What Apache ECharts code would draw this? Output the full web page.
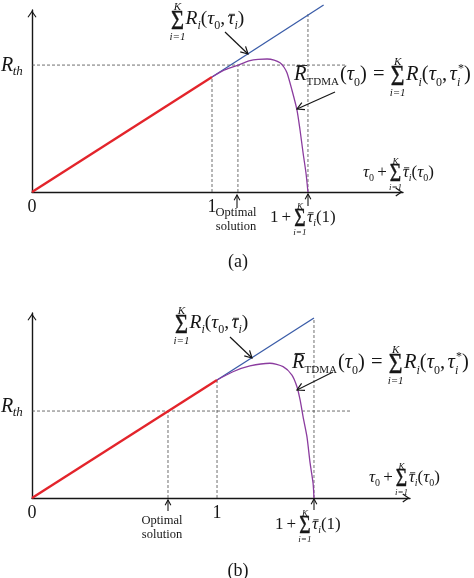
<!DOCTYPE html>
<html><head><meta charset="utf-8">
<script src="https://cdn.jsdelivr.net/npm/echarts@6/dist/echarts.min.js"></script>
<style>html,body{margin:0;padding:0;background:#fff}#c{width:474px;height:578px}</style>
</head><body><div id="c"></div>
<script>
// ---------- data ----------
const xTickValues = [0, 1];
const xTickLabels = ['0', '1'];
// panel (a)
const redA = [[0, 0], [1, 1]];
const blueA = [[1, 1], [1.62, 1.626]];
const purpleA = [[1, 1], [1.07, 1.062], [1.156, 1.11], [1.211, 1.142], [1.256, 1.153], [1.306, 1.157], [1.345, 1.148], [1.378, 1.124], [1.40, 1.085], [1.417, 1.035], [1.444, 0.887], [1.472, 0.713], [1.489, 0.539], [1.506, 0.339], [1.522, 0.165], [1.533, 0]];
const rthA = 1.104, rthEndA = 1.739, optA = 1.144, endA = 1.533, endTopA = 1.55;
const xMaxA = 2.061, yMaxA = 1.583;
// panel (b)
const redB = [[0, 0], [1, 1]];
const blueB = [[1, 1], [1.524, 1.525]];
const purpleB = [[1, 1], [1.086, 1.070], [1.178, 1.119], [1.286, 1.142], [1.357, 1.113], [1.405, 1.042], [1.432, 0.943], [1.449, 0.831], [1.465, 0.689], [1.486, 0.520], [1.503, 0.297], [1.519, 0.127], [1.524, 0]];
const rthB = 0.737, rthEndB = 1.724, optB = 0.735, endB = 1.524, endTopB = 1.525;
const xMaxB = 2.043, yMaxB = 1.568;

// ---------- helpers ----------
const SERIF = '"Liberation Serif","Times New Roman",serif';
const INK = '#161616';
const mctx = document.createElement('canvas').getContext('2d');
const fnt = (s, it) => (it ? 'italic ' : '') + s + 'px ' + SERIF;
const meas = (t, s, it) => { mctx.font = fnt(s, it); return mctx.measureText(t).width; };
const G = [];
function T(t, x, b, s, it, align) {
  G.push({type: 'text', x: x, y: b, silent: true, z: 10,
    style: {text: t, x: 0, y: -0.34 * s, font: fnt(s, it), fill: INK, align: align || 'left', verticalAlign: 'middle'}});
}
function L(x1, y1, x2, y2, w) {
  G.push({type: 'line', silent: true, z: 10, shape: {x1, y1, x2, y2}, style: {stroke: INK, lineWidth: w || 1}});
}
function arrow(x1, y1, x2, y2, len, w) {
  L(x1, y1, x2, y2, w);
  const a = Math.atan2(y2 - y1, x2 - x1), h = 0.5;
  const p1 = [x2 - len * Math.cos(a - h), y2 - len * Math.sin(a - h)];
  const p2 = [x2 - len * Math.cos(a + h), y2 - len * Math.sin(a + h)];
  G.push({type: 'polyline', silent: true, z: 10, shape: {points: [p1, [x2, y2], p2]}, style: {stroke: INK, lineWidth: w || 1, fill: null}});
}
function math(x, b, items) {
  for (const it of items) {
    if (it.gap) { x += it.gap; continue; }
    if (it.sum) {
      const s = it.s, f = s * 1.15, hgt = 0.95 * s, k = hgt / (0.66 * f), w = meas('Σ', f, false);
      G.push({type: 'text', x: x, y: b + 0.27 * s, scaleY: k, silent: true, z: 10,
        style: {text: 'Σ', x: 0, y: -0.34 * f, font: fnt(f, false), fill: INK, verticalAlign: 'middle', stroke: INK, lineWidth: 0.35}});
      const ls = Math.round(s * 0.55);
      T('K', x + w / 2, b - 0.68 * s - 2, ls, true, 'center');
      T('i=1', x + w / 2, b + 0.27 * s + 0.72 * ls + 1.5, ls, true, 'center');
      x += w + 1.5;
      continue;
    }
    const s = it.s, w = meas(it.t, s, it.it), bb = b + (it.dy || 0);
    T(it.t, x, bb, s, it.it);
    if (it.bar) {
      const y = bb - (it.bar === 'cap' ? 0.66 * s + 3 : 0.6 * s);
      L(x + 0.22 * w, y, x + w + 0.5, y, 0.9);
    }
    let ww = w;
    if (it.sup) { T(it.sup, x + 1, b - it.supUp, s, false); ww = Math.max(w, meas(it.sup, s, false) + 1); }
    x += ww + (it.k || 0);
  }
  return x;
}
const ss = s => Math.round(s * 0.6);
const sub = (t, s, it) => ({t: t, s: ss(s), it: it, dy: s * 0.22});
function eqSumR(s) {
  return [{sum: true, s}, {t: 'R', s, it: true}, sub('i', s, true), {t: '(', s}, {t: 'τ', s, it: true}, sub('0', s),
    {t: ',', s}, {gap: s * 0.12}, {t: 'τ', s, it: true, bar: true}, sub('i', s, true), {t: ')', s}];
}
function eqTDMA(s) {
  return [{t: 'R', s, it: true, bar: 'cap'}, {t: 'TDMA', s: Math.round(s * 0.53), dy: s * 0.2}, {gap: 1}, {t: '(', s}, {t: 'τ', s, it: true}, sub('0', s), {t: ')', s},
    {gap: s * 0.3}, {t: '=', s}, {gap: s * 0.3},
    {sum: true, s}, {t: 'R', s, it: true}, sub('i', s, true), {t: '(', s}, {t: 'τ', s, it: true}, sub('0', s),
    {t: ',', s}, {gap: s * 0.12}, {t: 'τ', s, it: true}, Object.assign(sub('i', s, true), {sup: '*', supUp: s * 0.45}), {t: ')', s}];
}
function eqXName(s) {
  return [{t: 'τ', s, it: true}, sub('0', s), {gap: s * 0.18}, {t: '+', s}, {gap: s * 0.18},
    {sum: true, s}, {t: 'τ', s, it: true, bar: true}, sub('i', s, true), {t: '(', s}, {t: 'τ', s, it: true}, sub('0', s), {t: ')', s}];
}
function eqEnd(s) {
  return [{t: '1', s}, {gap: s * 0.18}, {t: '+', s}, {gap: s * 0.18},
    {sum: true, s}, {t: 'τ', s, it: true, bar: true}, sub('i', s, true), {t: '(1)', s}];
}
function rth(x, b) { T('R', x, b, 20, true); T('th', x + meas('R', 20, true) - 0.5, b + 3, 13, true); }

// ---------- annotations (a) ----------
math(171, 26, eqSumR(19.5));
arrow(225, 32, 248, 54, 8, 1.2);
math(294, 82, eqTDMA(20.5));
arrow(335, 92, 297, 109, 8, 1.2);
math(363, 178, eqXName(17));
math(270, 223, eqEnd(17));
arrow(237, 208, 237, 195, 6, 1.1);
arrow(308, 206, 308, 194, 6, 1.1);
T('Optimal', 236, 217, 12.5, false, 'center');
T('solution', 236, 231, 12.5, false, 'center');
rth(1, 73);
T('(a)', 238, 268, 18, false, 'center');
// ---------- annotations (b) ----------
math(175, 330, eqSumR(19.5));
arrow(230, 337, 252, 358, 8, 1.2);
math(292, 370, eqTDMA(20.5));
arrow(333, 372, 297, 390, 8, 1.2);
math(369, 483, eqXName(17));
math(275, 530, eqEnd(17));
arrow(168, 511, 168, 500, 6, 1.1);
arrow(314, 510, 314, 499, 6, 1.1);
T('Optimal', 162, 525, 12.5, false, 'center');
T('solution', 162, 539, 12.5, false, 'center');
rth(1, 414);
T('(b)', 238, 577, 18, false, 'center');

// ---------- chart ----------
const arrowPath = 'path://M5,0L10,7.2L9,8L5,2.3L1,8L0,7.2Z';
function xAx(g, max) {
  return {type: 'value', gridIndex: g, min: 0, max: max, interval: 1,
    axisLine: {show: true, onZero: false, lineStyle: {color: INK, width: 1.4}, symbol: ['none', arrowPath], symbolSize: [9, 8], symbolOffset: [0, -4]},
    axisTick: {show: false}, splitLine: {show: false},
    axisLabel: {show: true, showMaxLabel: false, fontFamily: SERIF, fontSize: 18, color: INK, margin: 6,
      formatter: v => { const i = xTickValues.indexOf(v); return i >= 0 ? xTickLabels[i] : ''; }}};
}
function yAx(g, max) {
  return {type: 'value', gridIndex: g, min: 0, max: max,
    axisLine: {show: true, onZero: false, lineStyle: {color: INK, width: 1.4}, symbol: ['none', arrowPath], symbolSize: [9, 8], symbolOffset: [0, -4]},
    axisTick: {show: false}, splitLine: {show: false}, axisLabel: {show: false}};
}
function panelSeries(g, red, blue, purple, rth, rthEnd, opt, end, endTop) {
  const dash = {color: '#4a4a4a', width: 0.8, type: [3, 2]};
  const mk = (data, style, z) => ({type: 'line', xAxisIndex: g, yAxisIndex: g, data: data, symbol: 'none', showSymbol: false,
    lineStyle: style, clip: false, z: z, silent: true, animation: false});
  const p = mk(purple, {color: '#8b3c9f', width: 1.3}, 3);
  p.smooth = 0.25;
  return [
    mk([[0, rth], [rthEnd, rth]], dash, 1),
    mk([[opt, 0], [opt, rth]], dash, 1),
    mk([[1, 0], [1, 1]], dash, 1),
    mk([[end, 0], [end, endTop]], dash, 1),
    mk(red, {color: '#e3242b', width: 2.4}, 3),
    mk(blue, {color: '#3a5ca8', width: 1.3}, 3),
    p
  ];
}
const chart = echarts.init(document.getElementById('c'), null, {renderer: 'canvas'});
chart.setOption({
  animation: false,
  backgroundColor: '#fff',
  grid: [
    {left: 32, top: 10, width: 371, height: 182},
    {left: 32, top: 313, width: 378, height: 185}
  ],
  xAxis: [xAx(0, xMaxA), xAx(1, xMaxB)],
  yAxis: [yAx(0, yMaxA), yAx(1, yMaxB)],
  series: panelSeries(0, redA, blueA, purpleA, rthA, rthEndA, optA, endA, endTopA)
    .concat(panelSeries(1, redB, blueB, purpleB, rthB, rthEndB, optB, endB, endTopB)),
  graphic: G
});
</script></body></html>
